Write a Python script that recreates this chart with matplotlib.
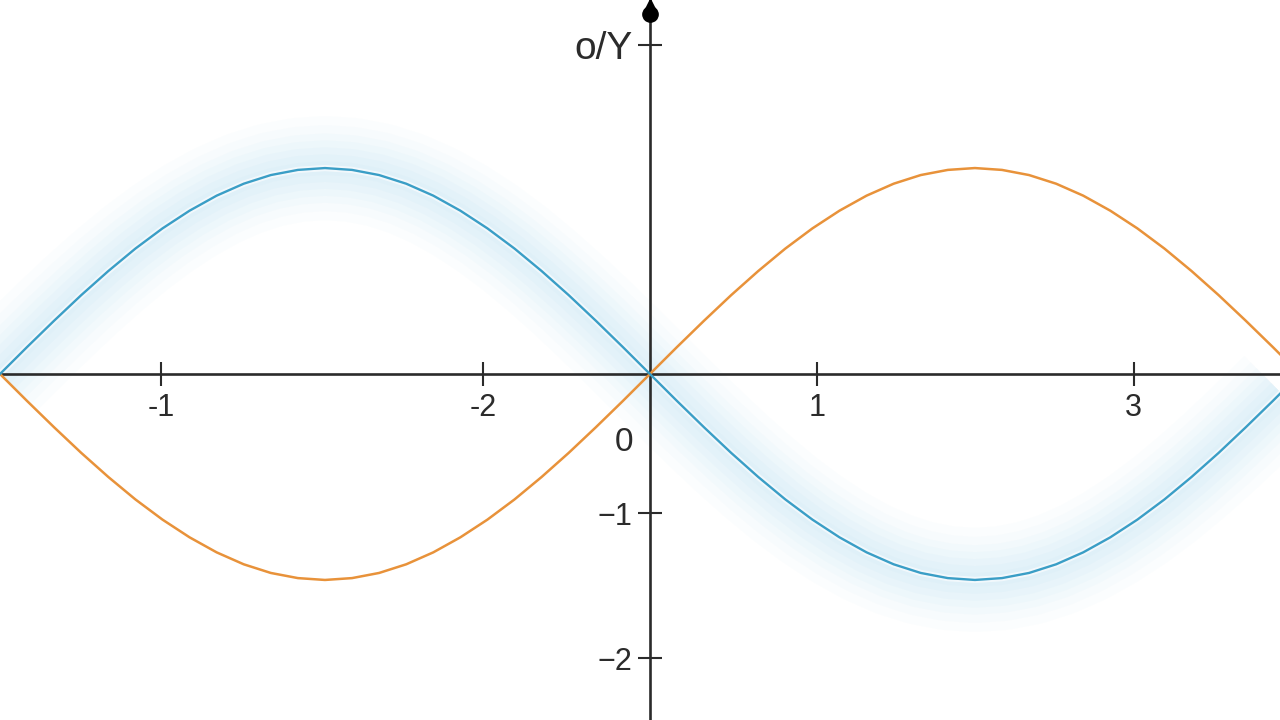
import matplotlib
matplotlib.use("Agg")
import matplotlib.pyplot as plt

plt.rcParams['font.family'] = ['Liberation Sans', 'DejaVu Sans']

# phase (degrees) along the horizontal axis
x_deg = [-180, -172.5, -165, -157.5, -150, -142.5, -135, -127.5, -120, -112.5, -105, -97.5,
         -90, -82.5, -75, -67.5, -60, -52.5, -45, -37.5, -30, -22.5, -15, -7.5,
         0, 7.5, 15, 22.5, 30, 37.5, 45, 52.5, 60, 67.5, 75, 82.5,
         90, 97.5, 105, 112.5, 120, 127.5, 135, 142.5, 150, 157.5, 165, 172.5, 180]

# blue (glowing) curve
blue_y = [0.000, 0.131, 0.259, 0.383, 0.500, 0.609, 0.707, 0.793, 0.866, 0.924, 0.966, 0.991,
          1.000, 0.991, 0.966, 0.924, 0.866, 0.793, 0.707, 0.609, 0.500, 0.383, 0.259, 0.131,
          0.000, -0.131, -0.259, -0.383, -0.500, -0.609, -0.707, -0.793, -0.866, -0.924, -0.966, -0.991,
          -1.000, -0.991, -0.966, -0.924, -0.866, -0.793, -0.707, -0.609, -0.500, -0.383, -0.259, -0.131, 0.000]

# orange curve
orange_y = [0.000, -0.131, -0.259, -0.383, -0.500, -0.609, -0.707, -0.793, -0.866, -0.924, -0.966, -0.991,
            -1.000, -0.991, -0.966, -0.924, -0.866, -0.793, -0.707, -0.609, -0.500, -0.383, -0.259, -0.131,
            0.000, 0.131, 0.259, 0.383, 0.500, 0.609, 0.707, 0.793, 0.866, 0.924, 0.966, 0.991,
            1.000, 0.991, 0.966, 0.924, 0.866, 0.793, 0.707, 0.609, 0.500, 0.383, 0.259, 0.131, 0.000]

# tick labels (as printed in the chart)
x_tick_labels = ["-1", "-2", "1", "3"]
x_tick_pos = [-135.4, -46.2, 46.2, 134.0]
y_tick_labels = ["o/Y", "\u22121", "\u22122"]
y_tick_pos = [1.597, -0.675, -1.379]
origin_label = "0"

fig = plt.figure(figsize=(12.8, 7.2), dpi=100)
ax = fig.add_axes([0, 0, 1, 1])
ax.set_xlim(-180, 174.5)
ax.set_ylim(-1.680, 1.816)

axis_col = "#2b2b2b"
blue = "#3a9ec6"
orange = "#e8923a"
glow = "#a8d8ee"

# soft glow behind the blue curve
for lw, a in [(75, 0.035), (62, 0.04), (50, 0.05), (40, 0.06), (30, 0.07), (20, 0.07), (10, 0.05)]:
    ax.plot(x_deg, blue_y, color=glow, lw=lw, alpha=a, solid_capstyle='butt',
            solid_joinstyle='round', zorder=1)
ax.plot(x_deg, blue_y, color="white", lw=4.5, alpha=0.6, zorder=2)

ax.plot(x_deg, orange_y, color=orange, lw=1.8, zorder=3)
ax.plot(x_deg, blue_y, color=blue, lw=1.7, zorder=4)

for s in ["top", "right"]:
    ax.spines[s].set_visible(False)
ax.spines["left"].set_position(("data", 0))
ax.spines["bottom"].set_position(("data", 0))
for s in ["left", "bottom"]:
    ax.spines[s].set_color(axis_col)
    ax.spines[s].set_linewidth(1.9)
    ax.spines[s].set_zorder(2.5)

ax.set_xticks(x_tick_pos, x_tick_labels)
ax.set_yticks(y_tick_pos, y_tick_labels)
ax.tick_params(axis="x", direction="inout", length=17, width=1.5, colors=axis_col,
               labelsize=22, pad=5)
ax.tick_params(axis="y", direction="inout", length=17, width=1.5, colors=axis_col,
               labelsize=22, pad=4)
for lab in ax.get_yticklabels():
    if lab.get_text() == "o/Y":
        lab.set_fontsize(28)

ax.annotate(origin_label, (0, 0), xytext=(-19, -49), textcoords="offset points",
            ha="center", va="center", fontsize=24, color=axis_col)

# drop-shaped arrow head at the top of the vertical axis
ax.plot([0], [0.981], marker="o", markersize=11, color="black",
        transform=ax.get_xaxis_transform(), clip_on=False, zorder=6)
ax.plot([0], [0.993], marker="^", markersize=8, color="black",
        transform=ax.get_xaxis_transform(), clip_on=False, zorder=6)

ax.set_facecolor("white")
fig.savefig("out.png", dpi=100, facecolor="white")
